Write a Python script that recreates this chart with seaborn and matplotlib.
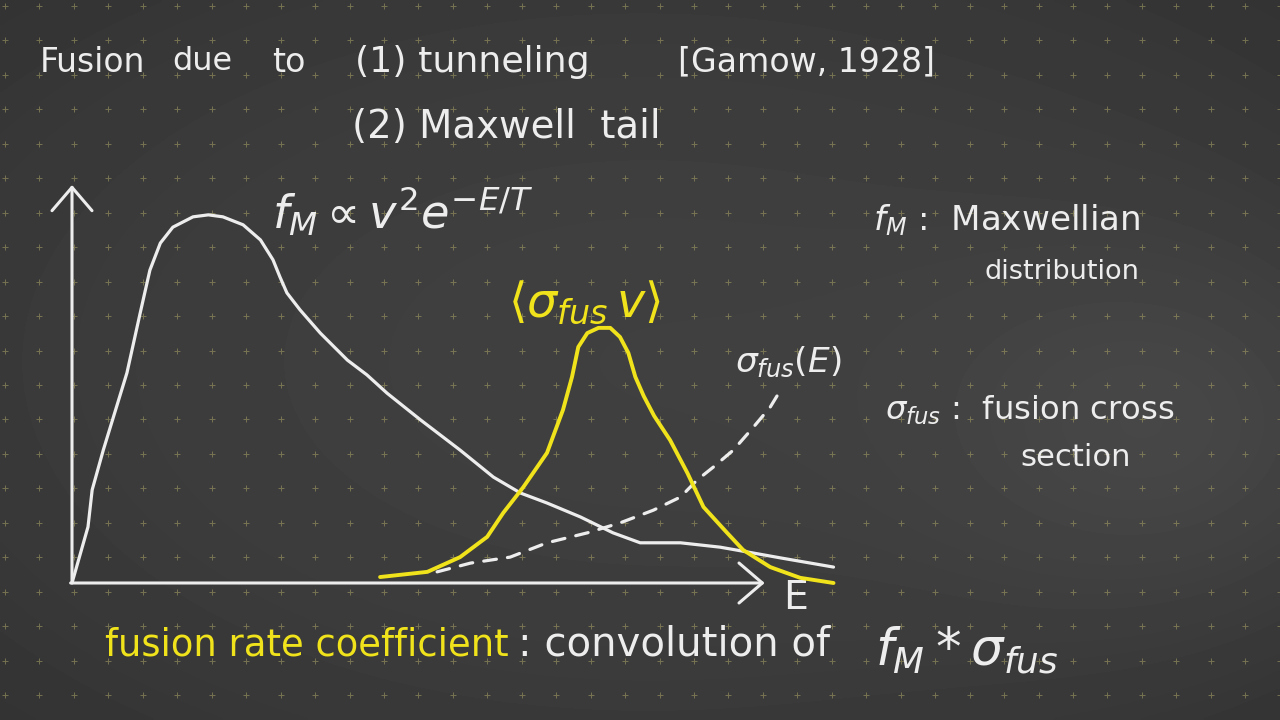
import numpy as np
import pandas as pd
import seaborn as sns
import matplotlib.pyplot as plt

# curves (E in arbitrary units, 0..11; height 0..10)
maxwell_E = [0.0, 0.23, 0.29, 0.45, 0.79, 0.98, 1.12, 1.27, 1.45, 1.74, 1.96, 2.17, 2.46, 2.71,
             2.89, 2.99, 3.09, 3.28, 3.57, 3.96, 4.24, 4.53, 5.01, 5.58, 6.06, 6.45, 6.83, 7.31,
             7.78, 8.17, 8.75, 9.32, 9.71, 10.19, 10.95]
maxwell_f = [0.0, 1.41, 2.34, 3.34, 5.28, 6.78, 7.86, 8.54, 8.94, 9.20, 9.25, 9.20, 9.00, 8.62,
             8.12, 7.69, 7.29, 6.86, 6.28, 5.60, 5.23, 4.77, 4.10, 3.34, 2.66, 2.26, 2.01, 1.66,
             1.26, 1.01, 1.01, 0.90, 0.78, 0.63, 0.40]

rate_E = [4.43, 5.11, 5.58, 5.97, 6.20, 6.49, 6.83, 7.06, 7.19, 7.28, 7.41, 7.57, 7.74, 7.88,
          8.00, 8.10, 8.22, 8.37, 8.60, 8.85, 9.08, 9.42, 9.65, 10.04, 10.47, 10.95]
rate_f = [0.15, 0.28, 0.65, 1.16, 1.76, 2.41, 3.27, 4.35, 5.18, 5.93, 6.28, 6.41, 6.41, 6.18,
          5.78, 5.18, 4.70, 4.20, 3.59, 2.76, 1.91, 1.26, 0.83, 0.40, 0.13, 0.0]

sigma_E = [5.25, 5.73, 6.30, 6.83, 7.41, 7.88, 8.36, 8.75, 8.99, 9.22, 9.51, 9.80, 10.04, 10.19]
sigma_f = [0.28, 0.50, 0.65, 1.01, 1.26, 1.51, 1.83, 2.16, 2.59, 2.91, 3.34, 3.92, 4.42, 4.85]

chalk = '#ededed'
yellow = '#f0e31c'
board = '#3e3e3e'

sns.set_theme(style="dark")
plt.rcParams['font.family'] = ['DejaVu Sans']
plt.rcParams['mathtext.fontset'] = 'dejavusans'

fig = plt.figure(figsize=(12.8, 7.2), dpi=100)
fig.patch.set_facecolor(board)

# board background, pixel coords
bg = fig.add_axes([0, 0, 1, 1])
bg.set_xlim(0, 1280)
bg.set_ylim(720, 0)
bg.axis('off')
yy, xx = np.mgrid[0:720:4, 0:1280:4]
shade = 0.045 * np.exp(-(((xx - 1180) / 240.0) ** 2 + ((yy - 430) / 190.0) ** 2)) \
    - 0.025 * (((xx - 640) / 640.0) ** 2 + ((yy - 360) / 360.0) ** 2)
bg.imshow(0.25 + shade, cmap='gray', vmin=0, vmax=1, extent=(0, 1280, 720, 0),
          aspect='auto', interpolation='bilinear')
gx, gy = np.meshgrid(np.arange(5, 1280, 34.45), np.arange(6, 720, 34.45))
bg.scatter(gx.ravel(), gy.ravel(), marker='+', s=14, color='#a09a62', lw=0.7, alpha=0.6)

# plot area
ax = fig.add_axes([72 / 1280, (720 - 583) / 720, 765 / 1280, 398 / 720])
ax.set_xlim(0, 11)
ax.set_ylim(0, 10)
ax.axis('off')
ax.patch.set_alpha(0)

arrow = dict(arrowstyle='->, head_length=1.4, head_width=1.2', color=chalk, lw=2.2)
ax.annotate('', xy=(10.0, 0), xytext=(-0.06, 0), arrowprops=arrow, annotation_clip=False)
ax.annotate('', xy=(0, 10.07), xytext=(0, -0.05), arrowprops=arrow, annotation_clip=False)

df_m = pd.DataFrame({'E': maxwell_E, 'f': maxwell_f})
df_r = pd.DataFrame({'E': rate_E, 'f': rate_f})
df_s = pd.DataFrame({'E': sigma_E, 'f': sigma_f})
sns.lineplot(data=df_m, x='E', y='f', ax=ax, color=chalk, lw=2.3, sort=False, estimator=None)
sns.lineplot(data=df_s, x='E', y='f', ax=ax, color=chalk, lw=2.3, sort=False, estimator=None,
             dashes=(4, 3.5))
sns.lineplot(data=df_r, x='E', y='f', ax=ax, color=yellow, lw=2.8, sort=False, estimator=None)
for ln in ax.lines:
    ln.set_clip_on(False)
    ln.set_solid_capstyle('round')
    ln.set_solid_joinstyle('round')
    ln.set_dash_capstyle('round')

renderer = fig.canvas.get_renderer()


def put(s, x0, x1, y, color=chalk, maxsize=40):
    t = bg.text(x0, y, s, color=color, fontsize=20, ha='left', va='center')
    w = t.get_window_extent(renderer).width
    t.set_fontsize(min(20 * (x1 - x0) / w, maxsize))
    return t


put('Fusion', 40, 145, 62)
put('due', 172, 232, 62, maxsize=24)
put('to', 272, 310, 62, maxsize=24)
put('(1) tunneling', 355, 590, 62)
put('[Gamow, 1928]', 678, 935, 62)
put('(2) Maxwell  tail', 352, 660, 127)
put(r'$f_M \propto v^2 e^{-E/T}$', 272, 535, 212)
put(r'$f_M$ :  Maxwellian', 873, 1140, 220)
put('distribution', 985, 1140, 272)
put(r'$\langle\sigma_{fus}\, v\rangle$', 508, 662, 303, color=yellow)
put(r'$\sigma_{fus}(E)$', 735, 842, 362)
put(r'$\sigma_{fus}$ :  fusion cross', 885, 1175, 410)
put('section', 1020, 1130, 457)
put('E', 783, 808, 598)
put('fusion rate coefficient', 105, 508, 645, color=yellow)
put(': convolution of', 518, 830, 645)
put(r'$f_M * \sigma_{fus}$', 875, 1060, 650)

fig.savefig('out.png', dpi=100, facecolor=board)
